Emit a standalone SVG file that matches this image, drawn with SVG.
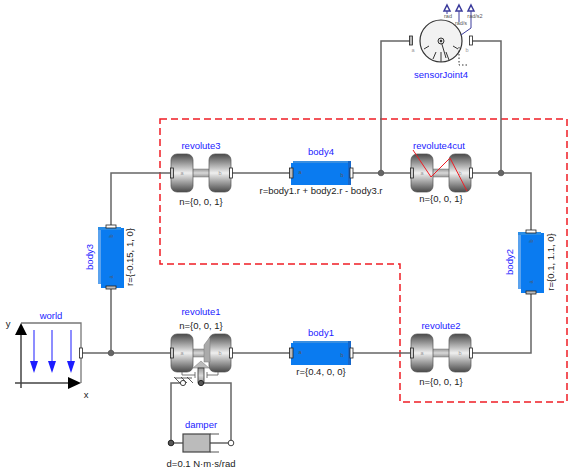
<svg xmlns="http://www.w3.org/2000/svg" width="573" height="473" viewBox="0 0 573 473">
<style>
text{font-family:"Liberation Sans",Arial,sans-serif;font-size:9.500px;fill:#222;text-anchor:middle}
text.n{fill:#2222ff}
text.p{font-size:5.500px;fill:#999}
text.q{font-size:5.500px;fill:#555}
.w{fill:none;stroke:#666;stroke-width:1.500}
.d{fill:#666;stroke:#555;stroke-width:.8}
.o{fill:#fff;stroke:#444;stroke-width:1}
</style>
<defs>
<linearGradient id="g" x1="0" y1="0" x2="0" y2="1"><stop offset="0" stop-color="#4a4a4a"/><stop offset=".5" stop-color="#efefef"/><stop offset="1" stop-color="#4a4a4a"/></linearGradient>
<linearGradient id="s" x1="0" y1="0" x2="0" y2="1"><stop offset="0" stop-color="#999"/><stop offset=".5" stop-color="#d8d8d8"/><stop offset="1" stop-color="#999"/></linearGradient>
<g id="rev">
<rect x="192" y="-4" width="18" height="8" fill="url(#s)" stroke="#777" stroke-width=".5"/>
<rect x="171" y="-19" width="22" height="38" rx="6" fill="url(#g)" stroke="#555" stroke-width=".7"/>
<rect x="209" y="-19" width="22" height="38" rx="6" fill="url(#g)" stroke="#555" stroke-width=".7"/>
<rect x="170.500" y="-5" width="3" height="10" fill="#ccc" stroke="#222" stroke-width=".8"/>
<rect x="229.500" y="-5" width="3" height="10" fill="#fff" stroke="#222" stroke-width=".8"/>
<text class="p" x="182" y="2">a</text><text class="p" x="220" y="2">b</text>
</g>
<g id="bh">
<rect x="293" y="-12" width="58" height="3" fill="#3a8fe0"/>
<rect x="291" y="-10" width="57" height="22" fill="#0a7bf0"/>
<rect x="348" y="-12" width="3" height="24" fill="#1766c8"/>
<rect x="289.500" y="-5" width="3.500" height="10" fill="#bbb" stroke="#222" stroke-width=".8"/>
<rect x="350" y="-5" width="3" height="10" fill="#fff" stroke="#222" stroke-width=".8"/>
<text class="q" x="300" y="1">a</text><text class="q" x="342" y="4">b</text>
</g>
<g id="bv">
<rect x="-13" y="-30" width="3" height="57" fill="#5aa2ee"/>
<rect x="-10" y="-29" width="23" height="60" fill="#0a7bf0"/>
<rect x="-13" y="-30" width="23" height="3" fill="#2a8de6"/>
<rect x="-5" y="-32" width="10" height="3" fill="#fff" stroke="#222" stroke-width=".8"/>
<rect x="-5" y="29" width="10" height="3" fill="#bbb" stroke="#222" stroke-width=".8"/>
<text class="q" transform="translate(2,-21) rotate(-90)">b</text><text class="q" transform="translate(2,20) rotate(-90)">a</text>
</g>
</defs>
<path id="cut" d="M160 119H567V402H400V264H160Z" fill="none" stroke="#f01c24" stroke-width="1.500" stroke-dasharray="7 4"/>
<g id="connectors">
<path class="w" d="M81 353H171M111 353V288M111 227V173H171M231 173H291M351 173H411M471 173H531V233M531 291V353H471M351 353H411M231 353H291M411 41H381V173M471 41H501V173"/>
<path class="w" d="M183 383H171V443H183M201 383H231V443H210"/>
<circle class="d" cx="111" cy="353" r="2.800"/>
<circle class="d" cx="381" cy="173" r="2.800"/>
<circle class="d" cx="501" cy="173" r="2.800"/>
</g>
<g id="world">
<path d="M21 323H81V383" fill="none" stroke="#777" stroke-width="1.300"/>
<path d="M21 333V388M15 383H72" fill="none" stroke="#444" stroke-width="1.500"/>
<path d="M21 323L27 335H15Z M81 383L68 377V389Z" fill="#000"/>
<g fill="#1c1cff" stroke="none">
<path d="M33.500 330H34.500V361H38L34 373 30 361H33.500Z"/><path d="M51.500 330H52.500V361H56L52 373 48 361H51.500Z"/><path d="M70.500 330H71.500V361H75L71 373 67 361H70.500Z"/>
</g>
<rect x="79.500" y="348" width="3" height="10" fill="#fff" stroke="#222" stroke-width=".8"/>
<text class="n" x="51" y="319">world</text>
<text x="8" y="327">y</text>
<text x="86" y="398">x</text>
</g>
<g id="revolute3"><use href="#rev" y="173"/><text class="n" x="201" y="149">revolute3</text><text x="201" y="205">n={0, 0, 1}</text></g>
<g id="body4"><use href="#bh" y="173"/><text class="n" x="321" y="155">body4</text><text x="321" y="194">r=body1.r + body2.r - body3.r</text></g>
<g id="revolute4cut"><use href="#rev" x="240" y="173"/><path d="M413 150L431 177 450 158 467 191" fill="none" stroke="#f01c24" stroke-width="1"/><text class="n" x="439" y="149">revolute4cut</text><text x="441" y="202">n={0, 0, 1}</text></g>
<g id="body3"><use href="#bv" x="111" y="257"/><text class="n" transform="translate(93,257) rotate(-90)">body3</text><text transform="translate(133,257) rotate(-90)">r={-0.15, 1, 0}</text></g>
<g id="body2"><use href="#bv" x="531" y="262"/><text class="n" transform="translate(513,262) rotate(-90)">body2</text><text transform="translate(554,262) rotate(-90)">r={0.1, 1.1, 0}</text></g>
<g id="revolute1"><use href="#rev" y="353"/>
<path d="M204 345L210 337V362L204 362Z" fill="#aaa" stroke="#777" stroke-width=".5"/>
<path d="M193 368L201 361 209 368Z" fill="#bbb" stroke="#777" stroke-width=".5"/>
<path d="M182 372V375H195M218 372V375H207M195 372V378M207 372V378" fill="none" stroke="#555" stroke-width=".8"/>
<rect x="198" y="368" width="6" height="15" fill="url(#s)" stroke="#333" stroke-width=".8"/>
<path d="M174 377L180 383M181 377L187 383M187 377L193 383M175 378H192" fill="none" stroke="#333" stroke-width=".8"/>
<circle class="o" cx="183" cy="383" r="2.600"/>
<circle cx="201" cy="383" r="2.600" fill="#555" stroke="#222"/>
<text x="201" y="329">n={0, 0, 1}</text>
<text class="n" x="201" y="315">revolute1</text></g>
<g id="body1"><use href="#bh" y="353"/><text class="n" x="321" y="336">body1</text><text x="321" y="375">r={0.4, 0, 0}</text></g>
<g id="revolute2"><use href="#rev" x="240" y="353"/><text class="n" x="441" y="329">revolute2</text><text x="441" y="385">n={0, 0, 1}</text></g>
<g id="damper">
<path d="M210 434H219M210 452H219" fill="none" stroke="#555" stroke-width="1"/>
<rect x="183" y="434" width="27" height="18" fill="#bbb" stroke="#444" stroke-width="1.200"/>
<circle cx="171" cy="443" r="2.800" fill="#555" stroke="#222"/>
<circle class="o" cx="231" cy="443" r="2.800"/>
<text class="n" x="201" y="428">damper</text>
<text x="201" y="467">d=0.1 N·m·s/rad</text>
</g>
<g id="sensorJoint4">
<circle cx="441" cy="41" r="21" fill="#f2f2f2" stroke="#333" stroke-width="1.200"/>
<path d="M424 49L429 46M433 59L436 52M441 62V52M449 60L446 52M458 49L453 46M446 58L441 41" fill="none" stroke="#333" stroke-width="1"/>
<circle cx="441" cy="41" r="3" fill="#ddd" stroke="#333" stroke-width="1"/>
<circle cx="441" cy="41" r="1.200" fill="#333"/>
<path d="M461 35L471 28V11M459 11V22" fill="none" stroke="#3c3c9c" stroke-width="1"/>
<path d="M459 47V65H469" fill="none" stroke="#333" stroke-width="1" stroke-dasharray="1.500 2"/>
<path d="M447 11V14" fill="none" stroke="#3c3c9c" stroke-width="1"/>
<path d="M447 5L450 11H444Z M459 5L462 11H456Z M471 5L474 11H468Z" fill="#fff" stroke="#3c3c9c" stroke-width="1.500"/>
<rect x="409.500" y="36" width="3" height="9" fill="#bbb" stroke="#222" stroke-width=".8"/>
<rect x="469.500" y="36" width="3" height="9" fill="#fff" stroke="#222" stroke-width=".8"/>
<text class="p" x="413" y="52">a</text><text class="p" x="467" y="52">b</text>
<text class="q" x="448" y="18">rad</text><text class="q" x="461" y="25">rad/s</text><text class="q" x="475" y="18">rad/s2</text>
<text class="n" x="441" y="78">sensorJoint4</text>
</g>
</svg>
